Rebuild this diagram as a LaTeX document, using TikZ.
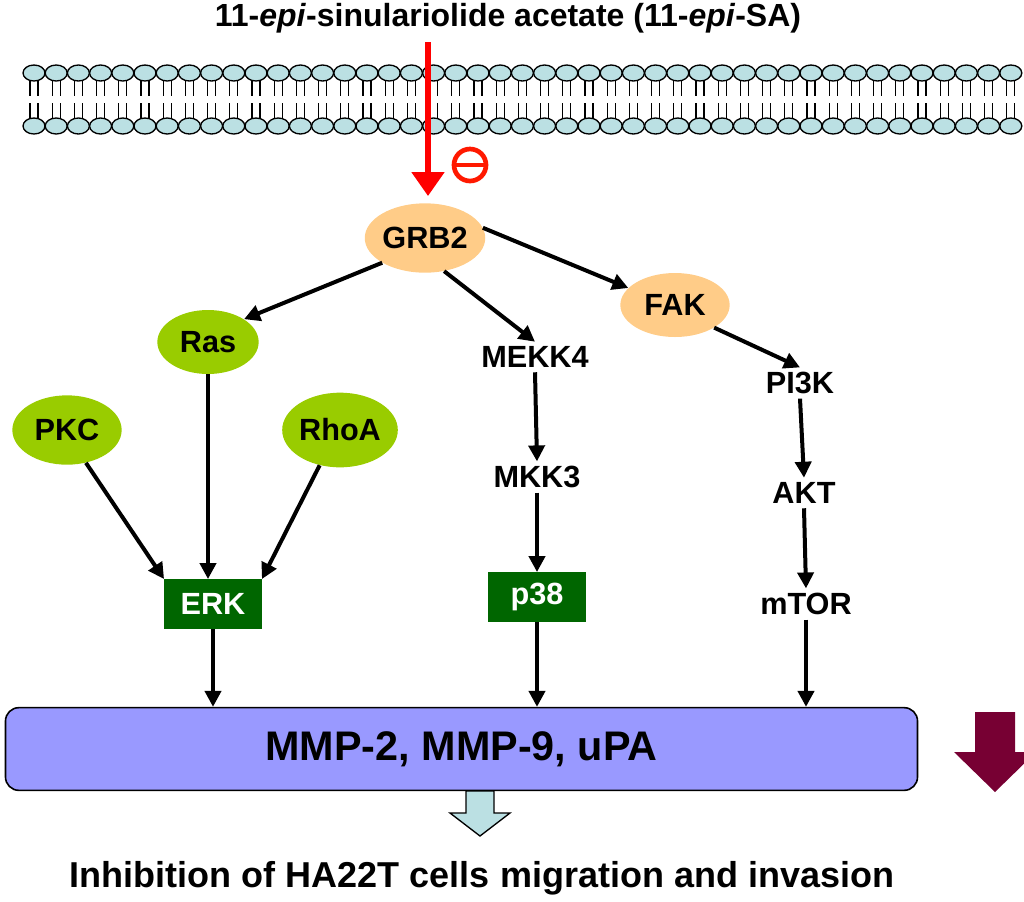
\documentclass[tikz,border=0pt]{standalone}
\usepackage{fontspec}
\setmainfont{Liberation Sans}
\usetikzlibrary{shapes.geometric,arrows.meta}
\definecolor{peach}{HTML}{FFCC88}
\definecolor{lime}{HTML}{99CC00}
\definecolor{dgreen}{HTML}{006600}
\definecolor{lav}{HTML}{9999FF}
\definecolor{lip}{HTML}{BBE0E3}
\definecolor{wine}{HTML}{770033}
\begin{document}
\begin{tikzpicture}[x=0.75pt,y=-0.75pt,
  lbl/.style={font=\bfseries\fontsize{23}{27}\selectfont},
  ell/.style={ellipse,lbl,inner sep=0pt},
  box/.style={rectangle,fill=dgreen,text=white,lbl,minimum width=73pt,minimum height=37pt},
  arr/.style={line width=3pt,-{Triangle[length=12pt,width=12pt]}}]
\useasboundingbox (0,0) rectangle (1024,901);
\node[font=\bfseries\fontsize{24}{28}\selectfont] (title) at (508,18) {11-\textit{epi}-sinulariolide acetate (11-\textit{epi}-SA)};
% membrane
\foreach \i in {0,...,44}{
  \pgfmathsetmacro\xx{34+22.2*\i}
  \draw[line width=0.9pt] (\xx-4,73) -- (\xx-4,96) (\xx+4,73) -- (\xx+4,96);
  \draw[line width=0.9pt] (\xx-4,103) -- (\xx-4,126) (\xx+4,103) -- (\xx+4,126);
  \draw[line width=1pt,fill=lip] (\xx,73) ellipse (11 and 8);
  \draw[line width=1pt,fill=lip] (\xx,126) ellipse (11 and 8);
}
\coordinate (rs) at (428,42);
\node[ell,fill=peach,minimum width=90pt,minimum height=52pt] (grb2) at (425,238) {GRB2};
\draw[red,line width=4pt,-{Triangle[length=18pt,width=24pt]}] (rs) -- (428,196);
\node[draw=red!80!orange,line width=3.5pt,circle,minimum size=24pt,inner sep=0pt] (minus) at (470,165) {};
\draw[red!80!orange,line width=3.5pt] (minus.west) -- (minus.east);
\node[ell,fill=peach,minimum width=82pt,minimum height=48pt] (fak) at (675,305) {FAK};
\node[ell,fill=lime,minimum width=76pt,minimum height=48pt] (ras) at (208,342) {Ras};
\node[ell,fill=lime,minimum width=82pt,minimum height=52pt] (pkc) at (67,430) {PKC};
\node[ell,fill=lime,minimum width=82pt,minimum height=56pt] (rhoa) at (340,430) {RhoA};
\node[lbl] (mekk4) at (535,357) {MEKK4};
\node[lbl] (mkk3) at (537,477) {MKK3};
\node[box] (p38) at (537,597) {p38};
\node[box] (erk) at (213,604) {ERK};
\node[lbl] (pi3k) at (800,383) {PI3K};
\node[lbl] (akt) at (804,493) {AKT};
\node[lbl] (mtor) at (806,604) {mTOR};
\node[draw,line width=1.2pt,fill=lav,rounded corners=10pt,minimum width=684pt,minimum height=62pt,
  font=\bfseries\fontsize{31}{36}\selectfont] (mmp) at (461.5,749) {MMP-2, MMP-9, uPA};
\coordinate (dn) at (995,712);
\fill[wine] (dn) ++(-20,0) -- ++(40,0) -- ++(0,40) -- ++(21,0) -- (995,792) -- (954,752) -- (975,752) -- cycle;
\coordinate (bk) at (480,791);
\draw[line width=1pt,fill=lip] (bk) ++(-14,0) -- ++(28,0) -- ++(0,22) -- ++(16,0) -- (480,836) -- (450,813) -- (466,813) -- cycle;
\node[font=\bfseries\fontsize{27}{32}\selectfont] (bottom) at (482,878) {Inhibition of HA22T cells migration and invasion};
% arrows
\draw[arr] (grb2.210) -- (ras.north east);
\draw[arr] (grb2.300) -- (mekk4.north);
\draw[arr] (grb2.10) -- (fak.160);
\draw[arr] (fak.330) -- (pi3k.north);
\draw[arr] (ras.south) -- (ras.south |- erk.north);
\draw[arr] (pkc.300) -- (erk.north west);
\draw[arr] (rhoa.240) -- (erk.north east);
\draw[arr] (mekk4.south) -- (mkk3.north);
\draw[arr] (mkk3.south) -- (p38.north);
\draw[arr] (pi3k.south) -- (akt.north);
\draw[arr] (akt.south) -- (mtor.north);
\draw[arr] (erk.south) -- (erk.south |- mmp.north);
\draw[arr] (p38.south) -- (p38.south |- mmp.north);
\draw[arr] (mtor.south) -- (mtor.south |- mmp.north);
\end{tikzpicture}
\end{document}
